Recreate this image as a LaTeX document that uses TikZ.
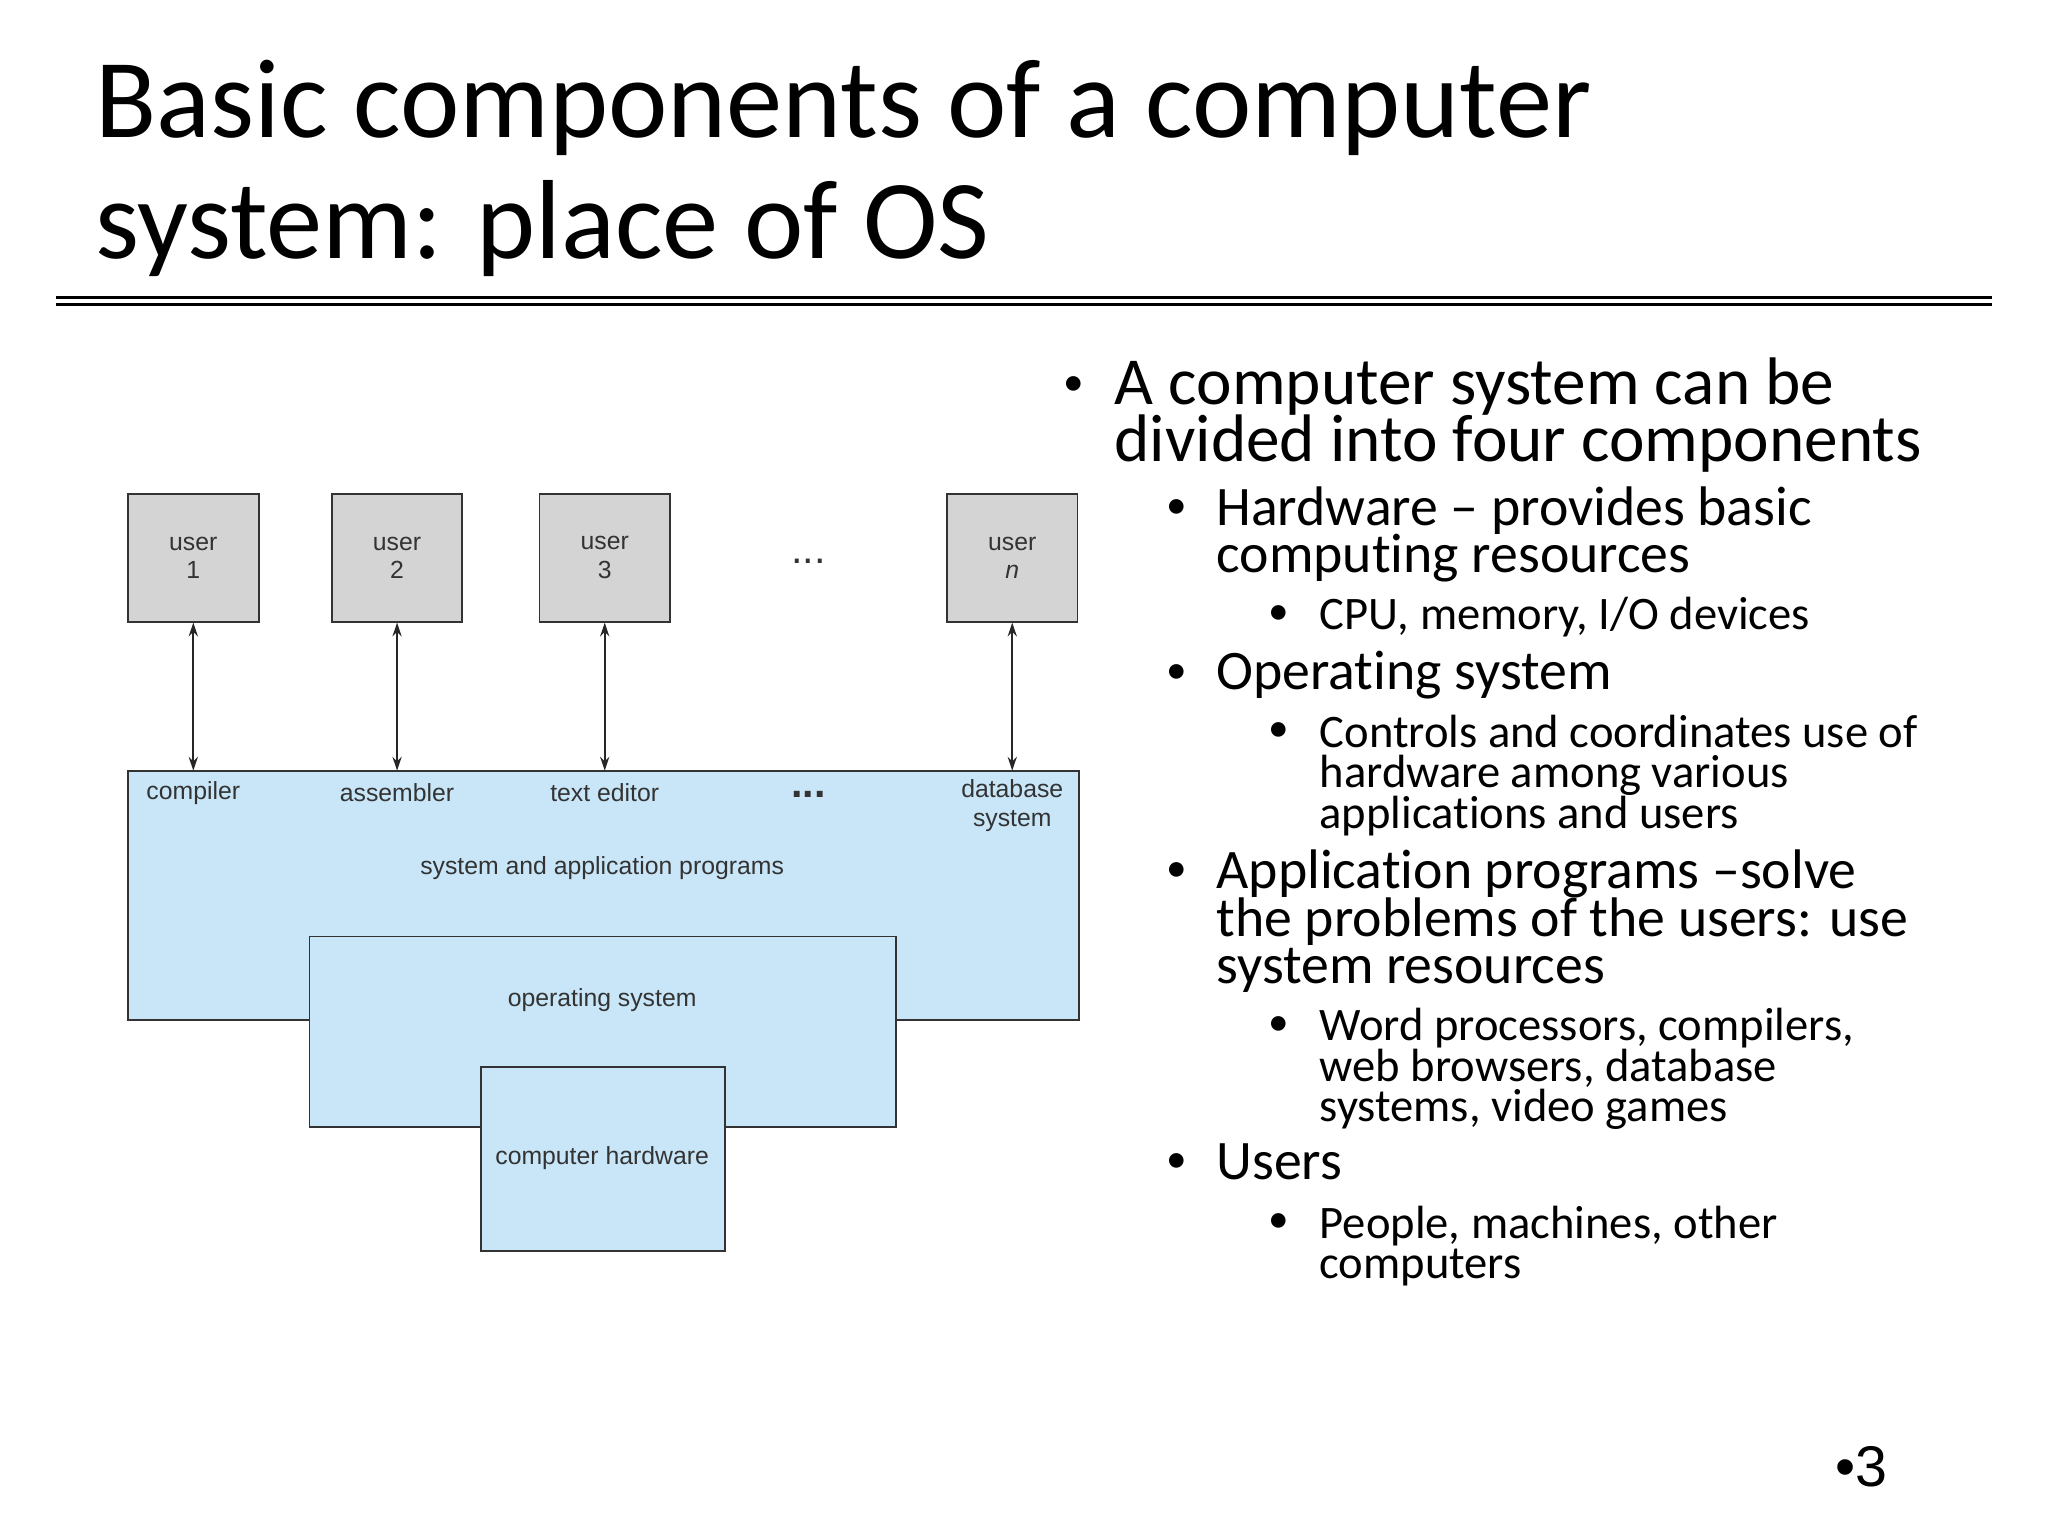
\documentclass[tikz,border=0pt]{standalone}
\usepackage{fontspec}
\usetikzlibrary{arrows.meta}
\setmainfont{Carlito}[Ligatures={NoCommon}]
\newfontfamily\arialf{Liberation Sans}
\definecolor{lb}{RGB}{200,230,248}
\definecolor{ug}{RGB}{212,212,212}
\begin{document}
\begin{tikzpicture}[x=0.02cm,y=-0.02cm,
  t/.style={anchor=base west,inner sep=0},
  ti/.style={t,font=\fontsize{49}{50}\selectfont},
  la/.style={t,font=\fontsize{29.3}{30}\selectfont},
  lb/.style={t,font=\fontsize{24.3}{25}\selectfont},
  lc/.style={t,font=\fontsize{20.3}{21}\selectfont},
  bu/.style={t,font=\fontsize{18}{18}\selectfont},
  usr/.style={draw=black!80,fill=ug,line width=0.8pt,inner sep=0,minimum width=2cm,minimum height=1.96cm},
  blu/.style={draw=black!80,fill=lb,line width=0.8pt},
  df/.style={font=\arialf\fontsize{10.8}{12.5}\selectfont,text=black!80,inner sep=0,align=center},
  ar/.style={<->,>={Stealth[length=6pt,width=4pt]},line width=0.9pt,black!85}]
\useasboundingbox (0,0) rectangle (1568,1176);
\fill[white] (0,0) rectangle (1568,1176);
% title
\node[ti] (t1) at (73,105) {Basic components of a computer};
\node[ti] (t2) at (73,198) {system: place of OS};
\draw[line width=1.2pt] (43,228) -- (1525,228);
\draw[line width=1.2pt] (43,233) -- (1525,233);
% diagram
\draw[blu] (98,590) rectangle (826,781);
\draw[blu] (237,717) rectangle (686,863);
\draw[blu] (368,817) rectangle (555,958);
\node[df] (hw) at (461,887) {computer hardware};
\node[df] (os) at (461,766) {operating system};
\node[df] (sap) at (461,665) {system and application programs};
\node[df] (c1) at (148,607) {compiler};
\node[df] (c2) at (304,607) {assembler};
\node[df] (c3) at (463,607) {text editor};
\node[df] (c4) at (775,617) {database\\system};
\node[df] (d2) at (619,608) {\fontsize{18}{18}\selectfont\textbf{...}};
\node[usr] (u1) at (148,427) {};
\node[usr] (u2) at (304,427) {};
\node[usr] (u3) at (463,427) {};
\node[usr] (un) at (775,427) {};
\node[df] at (u1) {user\\1};
\node[df] at (u2) {user\\2};
\node[df] at (u3) {user\\3};
\node[df] at (un) {user\\\textit{n}};
\node[df] (d1) at (619,430) {\fontsize{18}{18}\selectfont ...};
\coordinate (e1) at (148,590);
\coordinate (e2) at (304,590);
\coordinate (e3) at (463,590);
\coordinate (e4) at (775,590);
\draw[ar] (u1.south) -- (e1);
\draw[ar] (u2.south) -- (e2);
\draw[ar] (u3.south) -- (e3);
\draw[ar] (un.south) -- (e4);
% bullets
\node[bu] at (814,303) {•};
\node[la] (a1) at (853,310) {A computer system can be};
\node[la] (a2) at (853,353) {divided into four components};
\node[bu] at (893,397) {•};
\node[lb] at (931,402) {Hardware – provides basic};
\node[lb] at (931,438) {computing resources};
\node[bu] at (971,478) {•};
\node[lc] at (1010,482) {CPU, memory, I/O devices};
\node[bu] at (893,523) {•};
\node[lb] at (931,528) {Operating system};
\node[bu] at (971,568) {•};
\node[lc] at (1010,572) {Controls and coordinates use of};
\node[lc] at (1010,603) {hardware among various};
\node[lc] at (1010,634) {applications and users};
\node[bu] at (893,675) {•};
\node[lb] at (931,680) {Application programs –solve};
\node[lb] at (931,717) {the problems of the users: use};
\node[lb] at (931,753) {system resources};
\node[bu] at (971,793) {•};
\node[lc] at (1010,797) {Word processors, compilers,};
\node[lc] at (1010,828) {web browsers, database};
\node[lc] at (1010,859) {systems, video games};
\node[bu] at (893,898) {•};
\node[lb] at (931,903) {Users};
\node[bu] at (971,944) {•};
\node[lc] at (1010,948) {People, machines, other};
\node[lc] at (1010,979) {computers};
\node[t,font=\arialf\fontsize{25}{25}\selectfont] (pg) at (1405,1138) {•3};
\end{tikzpicture}
\end{document}
